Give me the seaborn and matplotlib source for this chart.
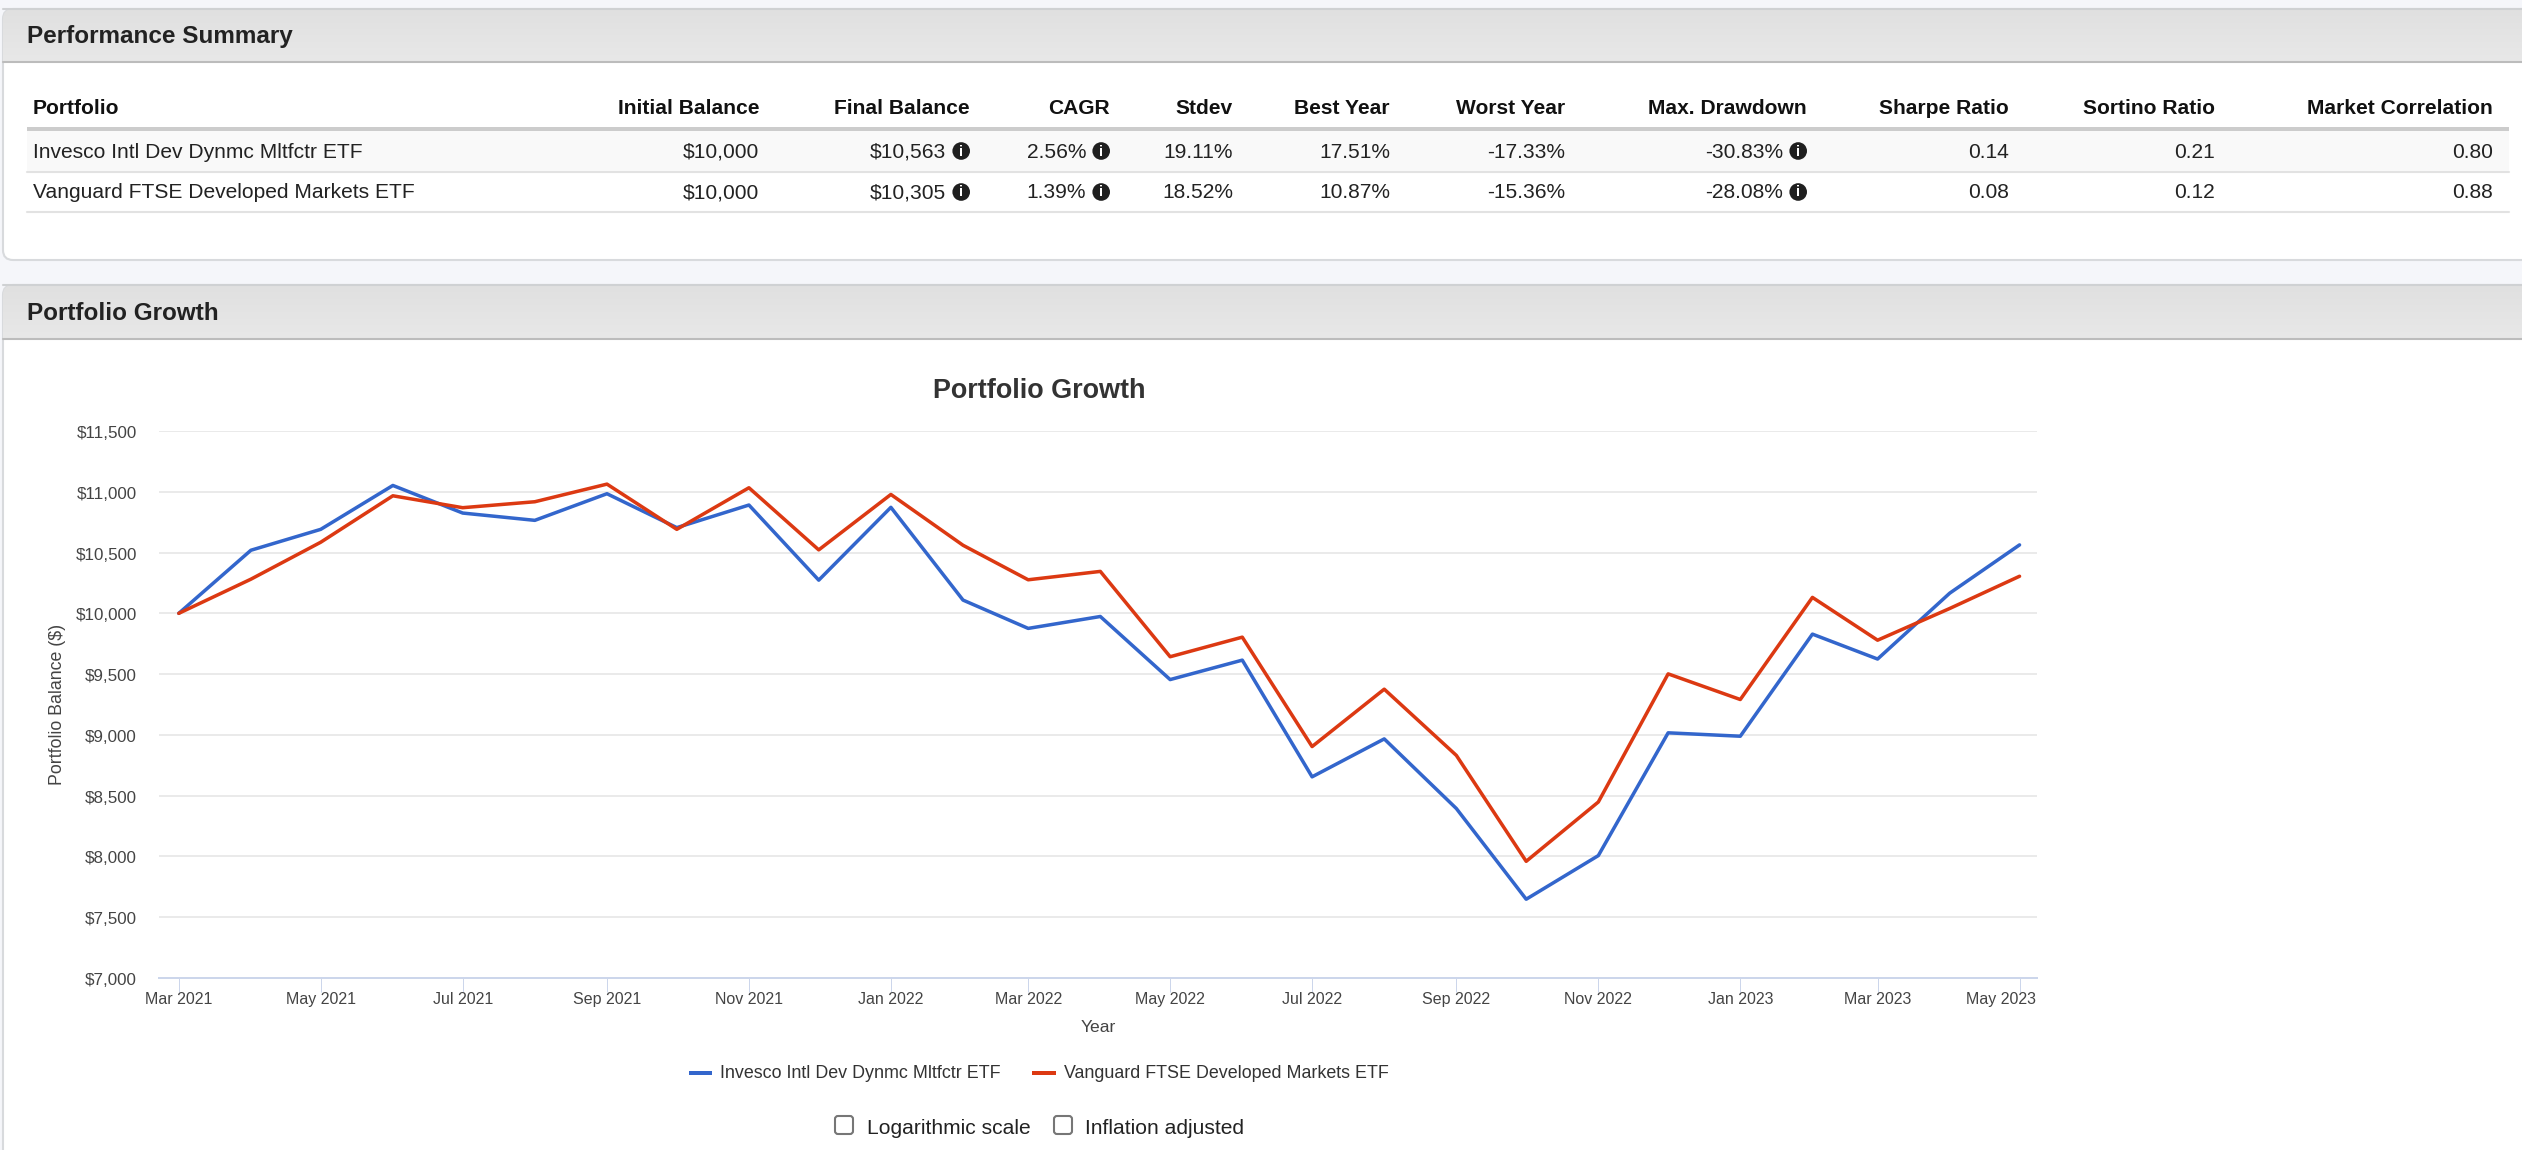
"""Portfolio summary table and growth chart."""

import matplotlib

matplotlib.use("Agg")

import matplotlib.dates as mdates
import matplotlib.pyplot as plt
import numpy as np
import pandas as pd
import seaborn as sns
from matplotlib.patches import Circle, FancyBboxPatch, Rectangle
from matplotlib.transforms import ScaledTranslation


sns.set_theme(style="white")
plt.rcParams["font.family"] = ["Liberation Sans", "DejaVu Sans"]

W, H = 2522, 1150
PX = 72 / 100  # points per pixel at dpi 100

NAMES = ["Invesco Intl Dev Dynmc Mltfctr ETF", "Vanguard FTSE Developed Markets ETF"]
MONTHS = pd.date_range("2021-03-01", "2023-05-01", freq="MS")
INVESCO = [
    10000, 10519, 10691, 11052, 10825, 10765, 10984, 10705, 10891, 10273, 10872, 10109, 9876, 9974,
    9455, 9615, 8655, 8967, 8394, 7648, 8007, 9017, 8989, 9829, 9624, 10166, 10563,
]
VANGUARD = [
    10000, 10281, 10585, 10967, 10869, 10918, 11063, 10691, 11033, 10522, 10978, 10560, 10276, 10345,
    9643, 9804, 8904, 9376, 8831, 7960, 8448, 9502, 9291, 10131, 9779, 10040, 10305,
]
LINE_COLORS = ["#3366cc", "#dc3912"]

Y_TICKS = [7000, 7500, 8000, 8500, 9000, 9500, 10000, 10500, 11000, 11500]
X_TICKS = pd.date_range("2021-03-01", "2023-05-01", freq="2MS")

COLUMNS = [
    "Initial Balance", "Final Balance", "CAGR", "Stdev", "Best Year", "Worst Year",
    "Max. Drawdown", "Sharpe Ratio", "Sortino Ratio", "Market Correlation",
]
COLUMN_RIGHT = [759, 970, 1110, 1233, 1390, 1565, 1807, 2009, 2215, 2493]
ROW_1 = ["$10,000", "$10,563", "2.56%", "19.11%", "17.51%", "-17.33%", "-30.83%", "0.14", "0.21", "0.80"]
ROW_2 = ["$10,000", "$10,305", "1.39%", "18.52%", "10.87%", "-15.36%", "-28.08%", "0.08", "0.12", "0.88"]
INFO_COLUMNS = ["Final Balance", "CAGR", "Max. Drawdown"]

fig = plt.figure(figsize=(W / 100, H / 100), dpi=100, facecolor="#f5f6fa")

# page layer, in pixel coordinates
page = fig.add_axes([0, 0, 1, 1], zorder=0)
page.set_axis_off()


def panel(top, header_bottom, bottom, title):
    page.add_patch(FancyBboxPatch((3, top), W + 40, bottom - top, boxstyle="round,pad=0,rounding_size=10",
                                  fc="white", ec="#d8dadd", lw=1.5, zorder=1))
    grad = np.linspace(0, 1, 32).reshape(-1, 1)
    img = page.imshow(grad, extent=(3, W, header_bottom, top), aspect="auto", zorder=2,
                      cmap=matplotlib.colors.LinearSegmentedColormap.from_list("h", ["#e0e0e0", "#e8e8e8"]))
    img.set_clip_path(FancyBboxPatch((3, top), W + 40, bottom - top, boxstyle="round,pad=0,rounding_size=10",
                                     transform=page.transData))
    page.plot([3, W], [top, top], color="#cfd1d3", lw=1.5, zorder=3)
    page.plot([3, W], [header_bottom, header_bottom], color="#bcbcbc", lw=1.5, zorder=3)
    page.text(27, (top + header_bottom) / 2 + 1, title, fontsize=24.3 * PX, fontweight="bold", color="#222222",
              va="center", ha="left", zorder=4)


def info_icon(x, y):
    page.add_patch(Circle((x, y), 8.8, fc="#1f1f1f", ec="none", zorder=4))
    page.text(x, y + 0.5, "i", fontsize=15 * PX, fontweight="bold", color="white", ha="center", va="center", zorder=5)


panel(9, 62, 260, "Performance Summary")
panel(285, 339, H + 40, "Portfolio Growth")

# summary table
page.add_patch(Rectangle((27, 131), 2482, 40, fc="#f9f9f9", ec="none", zorder=2))
page.add_patch(Rectangle((27, 127), 2482, 4, fc="#cccccc", ec="none", zorder=3))
for y in [171.5, 211.5]:
    page.plot([27, 2509], [y, y], color="#e2e2e2", lw=1.5, zorder=3)

page.text(33, 108, "Portfolio", fontsize=21 * PX, fontweight="bold", color="#111111", va="center", zorder=4)
for name, y in zip(NAMES, [152, 193]):
    page.text(33, y, name, fontsize=21 * PX, color="#222222", va="center", zorder=4)

for i, (col, right) in enumerate(zip(COLUMNS, COLUMN_RIGHT)):
    page.text(right, 108, col, fontsize=21 * PX, fontweight="bold", color="#111111", ha="right", va="center", zorder=4)
    for row, y in [(ROW_1, 152), (ROW_2, 193)]:
        if col in INFO_COLUMNS:
            info_icon(right - 8.8, y - 1)
            page.text(right - 24, y, row[i], fontsize=21 * PX, color="#222222", ha="right", va="center", zorder=4)
        else:
            page.text(right, y, row[i], fontsize=21 * PX, color="#222222", ha="right", va="center", zorder=4)

# chart title, axis titles
page.text(1039, 391, "Portfolio Growth", fontsize=27 * PX, fontweight="bold", color="#333333",
          ha="center", va="center", zorder=4)
page.text(58, 704, "Portfolio Balance ($)", fontsize=17.8 * PX, color="#444444", rotation=90,
          ha="center", va="center", zorder=4)
page.text(1098, 1027, "Year", fontsize=17.5 * PX, color="#444444", ha="center", va="center", zorder=4)

# legend
for name, color, x0, x1, tx in zip(NAMES, LINE_COLORS, [689, 1032], [712, 1056], [720, 1064]):
    page.plot([x0, x1], [1073, 1073], color=color, lw=4 * PX, solid_capstyle="butt", zorder=4)
    page.text(tx, 1074, name, fontsize=17.9 * PX, color="#333333", va="center", zorder=4)

# option checkboxes
for label, bx, tx in [("Logarithmic scale", 835, 867), ("Inflation adjusted", 1054, 1085)]:
    page.add_patch(FancyBboxPatch((bx, 1116), 18, 18, boxstyle="round,pad=0,rounding_size=3",
                                  fc="white", ec="#767676", lw=1.5, zorder=4))
    page.text(tx, 1129, label, fontsize=21 * PX, color="#222222", va="center", zorder=4)

page.set_xlim(0, W)
page.set_ylim(H, 0)

# chart
AX_L, AX_R, AX_T, AX_B = 159, 2037, 431, 978
ax = fig.add_axes([AX_L / W, 1 - AX_B / H, (AX_R - AX_L) / W, (AX_B - AX_T) / H], zorder=1)
ax.patch.set_alpha(0)

df = pd.DataFrame(
    {
        "date": list(MONTHS) * 2,
        "balance": INVESCO + VANGUARD,
        "portfolio": [NAMES[0]] * len(MONTHS) + [NAMES[1]] * len(MONTHS),
    }
)
sns.lineplot(data=df, x="date", y="balance", hue="portfolio", palette=LINE_COLORS, linewidth=3.5 * PX,
             legend=False, ax=ax, zorder=3)

ax.set_xlim(mdates.date2num(MONTHS[0]) - 8.5, mdates.date2num(MONTHS[-1]) + 7.5)
ax.set_ylim(7000, 11500)
ax.set_xlabel("")
ax.set_ylabel("")
ax.set_yticks(Y_TICKS)
ax.set_yticklabels([f"${v:,}" for v in Y_TICKS])
ax.set_xticks(mdates.date2num(X_TICKS))
ax.set_xticklabels([d.strftime("%b %Y") for d in X_TICKS])
ax.grid(axis="y", color="#e6e6e6", lw=1.6 * PX)
ax.grid(axis="x", visible=False)
ax.set_axisbelow(True)
for side in ["top", "left", "right"]:
    ax.spines[side].set_visible(False)
ax.spines["bottom"].set_color("#ccd6eb")
ax.spines["bottom"].set_linewidth(2 * PX)
ax.tick_params(axis="y", length=0, pad=22 * PX, labelsize=17 * PX, labelcolor="#444444")
ax.tick_params(axis="x", length=14 * PX, width=1 * PX, color="#ccd6eb", pad=0, labelsize=16 * PX, labelcolor="#444444",
               bottom=True)
for label in ax.get_yticklabels():
    label.set_transform(label.get_transform() + ScaledTranslation(0, -1 / 100, fig.dpi_scale_trans))
# last date label is pushed back inside the plot edge
last = ax.get_xticklabels()[-1]
last.set_transform(last.get_transform() + ScaledTranslation(-19 / 100, 0, fig.dpi_scale_trans))

fig.savefig("out.png", dpi=100, facecolor=fig.get_facecolor())
